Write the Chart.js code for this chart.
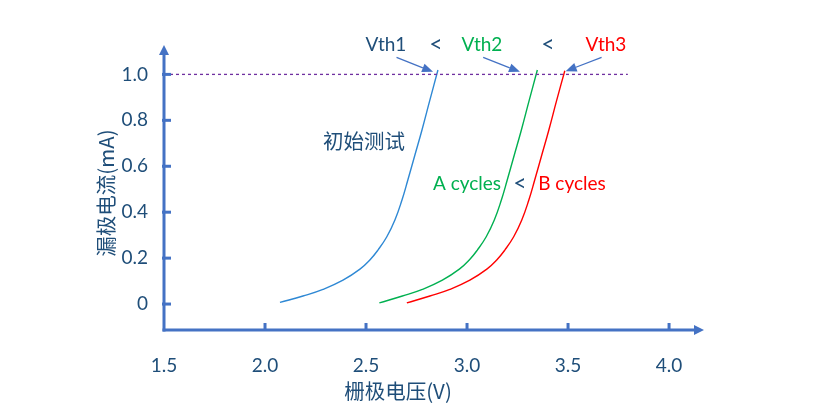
<!DOCTYPE html>
<html><head><meta charset="utf-8">
<script src="https://cdn.jsdelivr.net/npm/chart.js@4/dist/chart.umd.min.js"></script>
<style>html,body{margin:0;padding:0;background:#fff}canvas{display:block}</style>
</head><body>
<canvas id="c" width="822" height="420" style="width:822px;height:420px"></canvas>
<script>
// ---- data ----
const xTickValues = [1.5, 2.0, 2.5, 3.0, 3.5, 4.0];
const yTickValues = [0, 0.2, 0.4, 0.6, 0.8, 1.0];

const initialV = [2.074, 2.188, 2.287, 2.386, 2.470, 2.519, 2.559, 2.603, 2.643, 2.678, 2.707, 2.742, 2.777, 2.816, 2.856];
const initialI = [0.007, 0.035, 0.064, 0.104, 0.152, 0.192, 0.235, 0.293, 0.366, 0.453, 0.540, 0.649, 0.758, 0.888, 1.019];

const aCyclesV = [2.566, 2.680, 2.779, 2.878, 2.962, 3.011, 3.051, 3.095, 3.135, 3.170, 3.199, 3.234, 3.269, 3.308, 3.348];
const aCyclesI = [0.005, 0.035, 0.064, 0.104, 0.152, 0.192, 0.235, 0.293, 0.366, 0.453, 0.540, 0.649, 0.758, 0.888, 1.019];

const bCyclesV = [2.702, 2.816, 2.915, 3.014, 3.098, 3.147, 3.187, 3.231, 3.271, 3.306, 3.335, 3.370, 3.405, 3.444, 3.484];
const bCyclesI = [0.005, 0.035, 0.064, 0.104, 0.152, 0.192, 0.235, 0.293, 0.366, 0.453, 0.540, 0.649, 0.758, 0.888, 1.016];

const refLineV = [1.5, 3.796];
const refLineI = [1.0, 1.0];

// arrows: [startV, startI, tipV, tipI]
const arrowVth1 = [2.651, 1.074, 2.832, 1.011];
const arrowVth2 = [3.080, 1.074, 3.262, 1.011];
const arrowVth3 = [3.666, 1.074, 3.488, 1.014];

const toPts = (xs, ys) => xs.map((x, i) => ({x: x, y: ys[i]}));

const DARK = '#1F4E79';
const AXIS = '#4472C4';
const FONT = "Lato, 'Noto Sans CJK SC', sans-serif";
const CJK = "'Noto Sans CJK SC', Lato, sans-serif";

const decor = {
  id: 'decor',
  afterDraw(chart) {
    const ctx = chart.ctx;
    const xs = chart.scales.x, ys = chart.scales.y;
    const ca = chart.chartArea;
    const x0 = xs.getPixelForValue(1.5);
    const yb = ca.bottom;
    ctx.save();
    // axes
    ctx.strokeStyle = AXIS; ctx.fillStyle = AXIS; ctx.lineWidth = 3; ctx.lineCap = 'butt';
    ctx.beginPath(); ctx.moveTo(x0, yb + 1.5); ctx.lineTo(x0, ca.top + 8); ctx.stroke();
    ctx.beginPath(); ctx.moveTo(x0 - 1.5, yb); ctx.lineTo(ca.right - 8, yb); ctx.stroke();
    // arrow heads
    ctx.beginPath(); ctx.moveTo(x0, ca.top); ctx.lineTo(x0 - 5, ca.top + 10); ctx.lineTo(x0 + 5, ca.top + 10); ctx.closePath(); ctx.fill();
    ctx.beginPath(); ctx.moveTo(ca.right, yb); ctx.lineTo(ca.right - 10, yb - 5); ctx.lineTo(ca.right - 10, yb + 5); ctx.closePath(); ctx.fill();
    // ticks
    ctx.lineWidth = 3;
    yTickValues.forEach(v => {
      const py = ys.getPixelForValue(v);
      ctx.beginPath(); ctx.moveTo(x0 - 2, py); ctx.lineTo(x0 + 7, py); ctx.stroke();
    });
    xTickValues.forEach(v => {
      if (v === 1.5) return;
      const px = xs.getPixelForValue(v);
      ctx.beginPath(); ctx.moveTo(px, yb); ctx.lineTo(px, yb - 7); ctx.stroke();
    });
    // annotation arrows
    ctx.lineWidth = 1.3;
    [arrowVth1, arrowVth2, arrowVth3].forEach(a => {
      const sx = xs.getPixelForValue(a[0]), sy = ys.getPixelForValue(a[1]);
      const tx = xs.getPixelForValue(a[2]), ty = ys.getPixelForValue(a[3]);
      const ang = Math.atan2(ty - sy, tx - sx);
      const L = 11, W = 4.5;
      const bx = tx - L * Math.cos(ang), by = ty - L * Math.sin(ang);
      ctx.beginPath(); ctx.moveTo(sx, sy); ctx.lineTo(bx, by); ctx.stroke();
      ctx.beginPath(); ctx.moveTo(tx, ty);
      ctx.lineTo(bx + W * Math.sin(ang), by - W * Math.cos(ang));
      ctx.lineTo(bx - W * Math.sin(ang), by + W * Math.cos(ang));
      ctx.closePath(); ctx.fill();
    });
    // texts
    ctx.textAlign = 'center'; ctx.textBaseline = 'alphabetic';
    const t = (s, x, y, c) => { ctx.fillStyle = c; ctx.fillText(s, x, y); };
    ctx.font = '19px ' + FONT;
    t('Vth1', 386, 51, DARK);
    t('Vth2', 482, 51, '#00B050');
    t('Vth3', 606, 51, '#FF0000');
    t('A cycles', 467, 190, '#00B050');
    t('B cycles', 572, 190, '#FF0000');
    ctx.font = '23px ' + FONT;
    t('<', 436, 52, DARK);
    t('<', 548, 52, DARK);
    t('<', 520, 191, DARK);
    ctx.font = '20.5px ' + CJK;
    ctx.textBaseline = 'middle';
    t('初始测试', 364, 141, DARK);
    t('栅极电压(V)', 398, 391, DARK);
    ctx.translate(106, 193); ctx.rotate(-Math.PI / 2);
    t('漏极电流(mA)', 0, 0, DARK);
    ctx.restore();
  }
};

const curve = (pts, color) => ({data: pts, showLine: true, borderColor: color, borderWidth: 1.4, pointRadius: 0, tension: 0.45});

new Chart(document.getElementById('c'), {
  type: 'scatter',
  data: {
    datasets: [
      {data: toPts(refLineV, refLineI), showLine: true, borderColor: '#7030A0', borderWidth: 1.3, borderDash: [3, 3], pointRadius: 0},
      curve(toPts(initialV, initialI), '#2E88D4'),
      curve(toPts(aCyclesV, aCyclesI), '#00B050'),
      curve(toPts(bCyclesV, bCyclesI), '#FF0000')
    ]
  },
  options: {
    responsive: false, animation: false, devicePixelRatio: 1,
    layout: {padding: {top: 45, right: 118, left: 0, bottom: 0}},
    plugins: {legend: {display: false}, tooltip: {enabled: false}},
    scales: {
      x: {
        type: 'linear', min: 1.5, max: 4.173,
        afterBuildTicks: s => { s.ticks = xTickValues.map(v => ({value: v})); },
        afterFit: s => { s.height = 90; },
        grid: {display: false}, border: {display: false},
        ticks: {color: DARK, font: {family: FONT, size: 19}, padding: 16, callback: v => v.toFixed(1), maxRotation: 0}
      },
      y: {
        type: 'linear', min: -0.113, max: 1.128,
        afterBuildTicks: s => { s.ticks = yTickValues.map(v => ({value: v})); },
        afterFit: s => { s.width = 164; },
        grid: {display: false}, border: {display: false},
        ticks: {color: DARK, font: {family: FONT, size: 19}, padding: 8, callback: v => v === 0 ? '0' : v.toFixed(1)}
      }
    }
  },
  plugins: [decor]
});
</script>
</body></html>
